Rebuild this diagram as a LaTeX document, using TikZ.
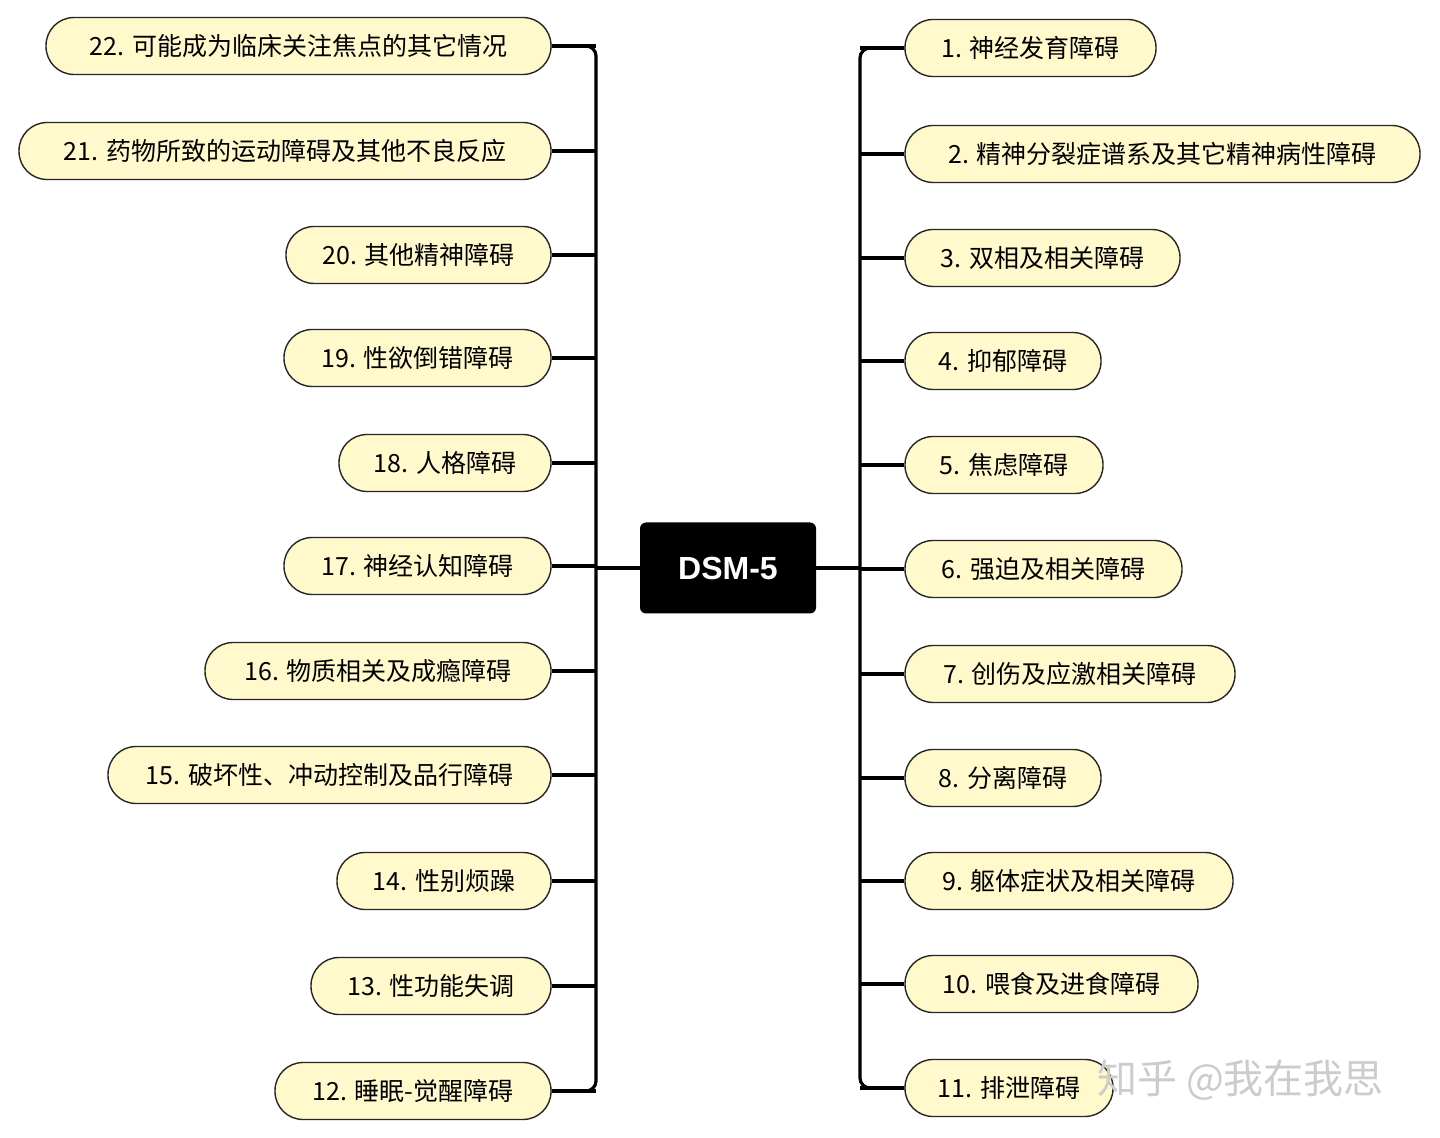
\documentclass[tikz,border=0pt]{standalone}
\usepackage{fontspec}
\setmainfont{Noto Sans CJK SC}
\begin{document}
\begin{tikzpicture}[x=0.5pt,y=-0.5pt,
  item/.style={draw=black!85,line width=0.7pt,fill=orange!25!yellow!20!white,rounded corners=14pt,minimum height=28.5pt,inner sep=0pt,font=\fontsize{12.5}{14}\selectfont},
  link/.style={line width=1.6pt,black}]
\useasboundingbox (0,0) rectangle (1440,1138);
\fill[white] (0,0) rectangle (1440,1138);
\node[fill=black,rounded corners=3pt,minimum width=88pt,minimum height=45.5pt,text=white,font=\sffamily\bfseries\fontsize{16}{18}\selectfont,inner sep=0pt] (c) at (728,568) {\setmainfont{Liberation Sans}\fontspec{Liberation Sans}\bfseries DSM-5};
\foreach \n/\l/\y/\t in {22/46/46/可能成为临床关注焦点的其它情况,21/19/151/药物所致的运动障碍及其他不良反应,20/286/255/其他精神障碍,19/284/358/性欲倒错障碍,18/339/463/人格障碍,17/284/566/神经认知障碍,16/205/671/物质相关及成瘾障碍,15/108/775/破坏性、冲动控制及品行障碍,14/337/881/性别烦躁,13/311/986/性功能失调,12/275/1091/睡眠-觉醒障碍}{
  \node[item,minimum width={(551-\l)*0.5pt}] (L\n) at ({(551+\l)/2},\y) {\n. \t};
  \coordinate (SL\n) at (596,\y);
  \draw[link] (L\n.east) -- (SL\n);
}
\foreach \n/\r/\y/\t in {1/1156/48/神经发育障碍,2/1420/154/精神分裂症谱系及其它精神病性障碍,3/1180/258/双相及相关障碍,4/1101/361/抑郁障碍,5/1103/465/焦虑障碍,6/1182/569/强迫及相关障碍,7/1235/674/创伤及应激相关障碍,8/1101/778/分离障碍,9/1233/881/躯体症状及相关障碍,10/1198/984/喂食及进食障碍,11/1113/1088/排泄障碍}{
  \node[item,minimum width={(\r-905)*0.5pt}] (R\n) at ({(\r+905)/2},\y) {\n. \t};
  \coordinate (SR\n) at (860,\y);
  \draw[link] (SR\n) -- (R\n.west);
}
\draw[link,rounded corners=5pt] (L22.east) -- (SL22) -- (SL12) -- (L12.east);
\draw[link,rounded corners=5pt] (R1.west) -- (SR1) -- (SR11) -- (R11.west);
\coordinate (CL) at (596,568);
\coordinate (CR) at (860,568);
\draw[link] (CL) -- (c.west);
\draw[link] (c.east) -- (CR);
\node[text=gray!40,font=\fontsize{20}{22}\selectfont,anchor=west] (wm) at (1090,1080) {知乎 @我在我思};
\end{tikzpicture}
\end{document}
